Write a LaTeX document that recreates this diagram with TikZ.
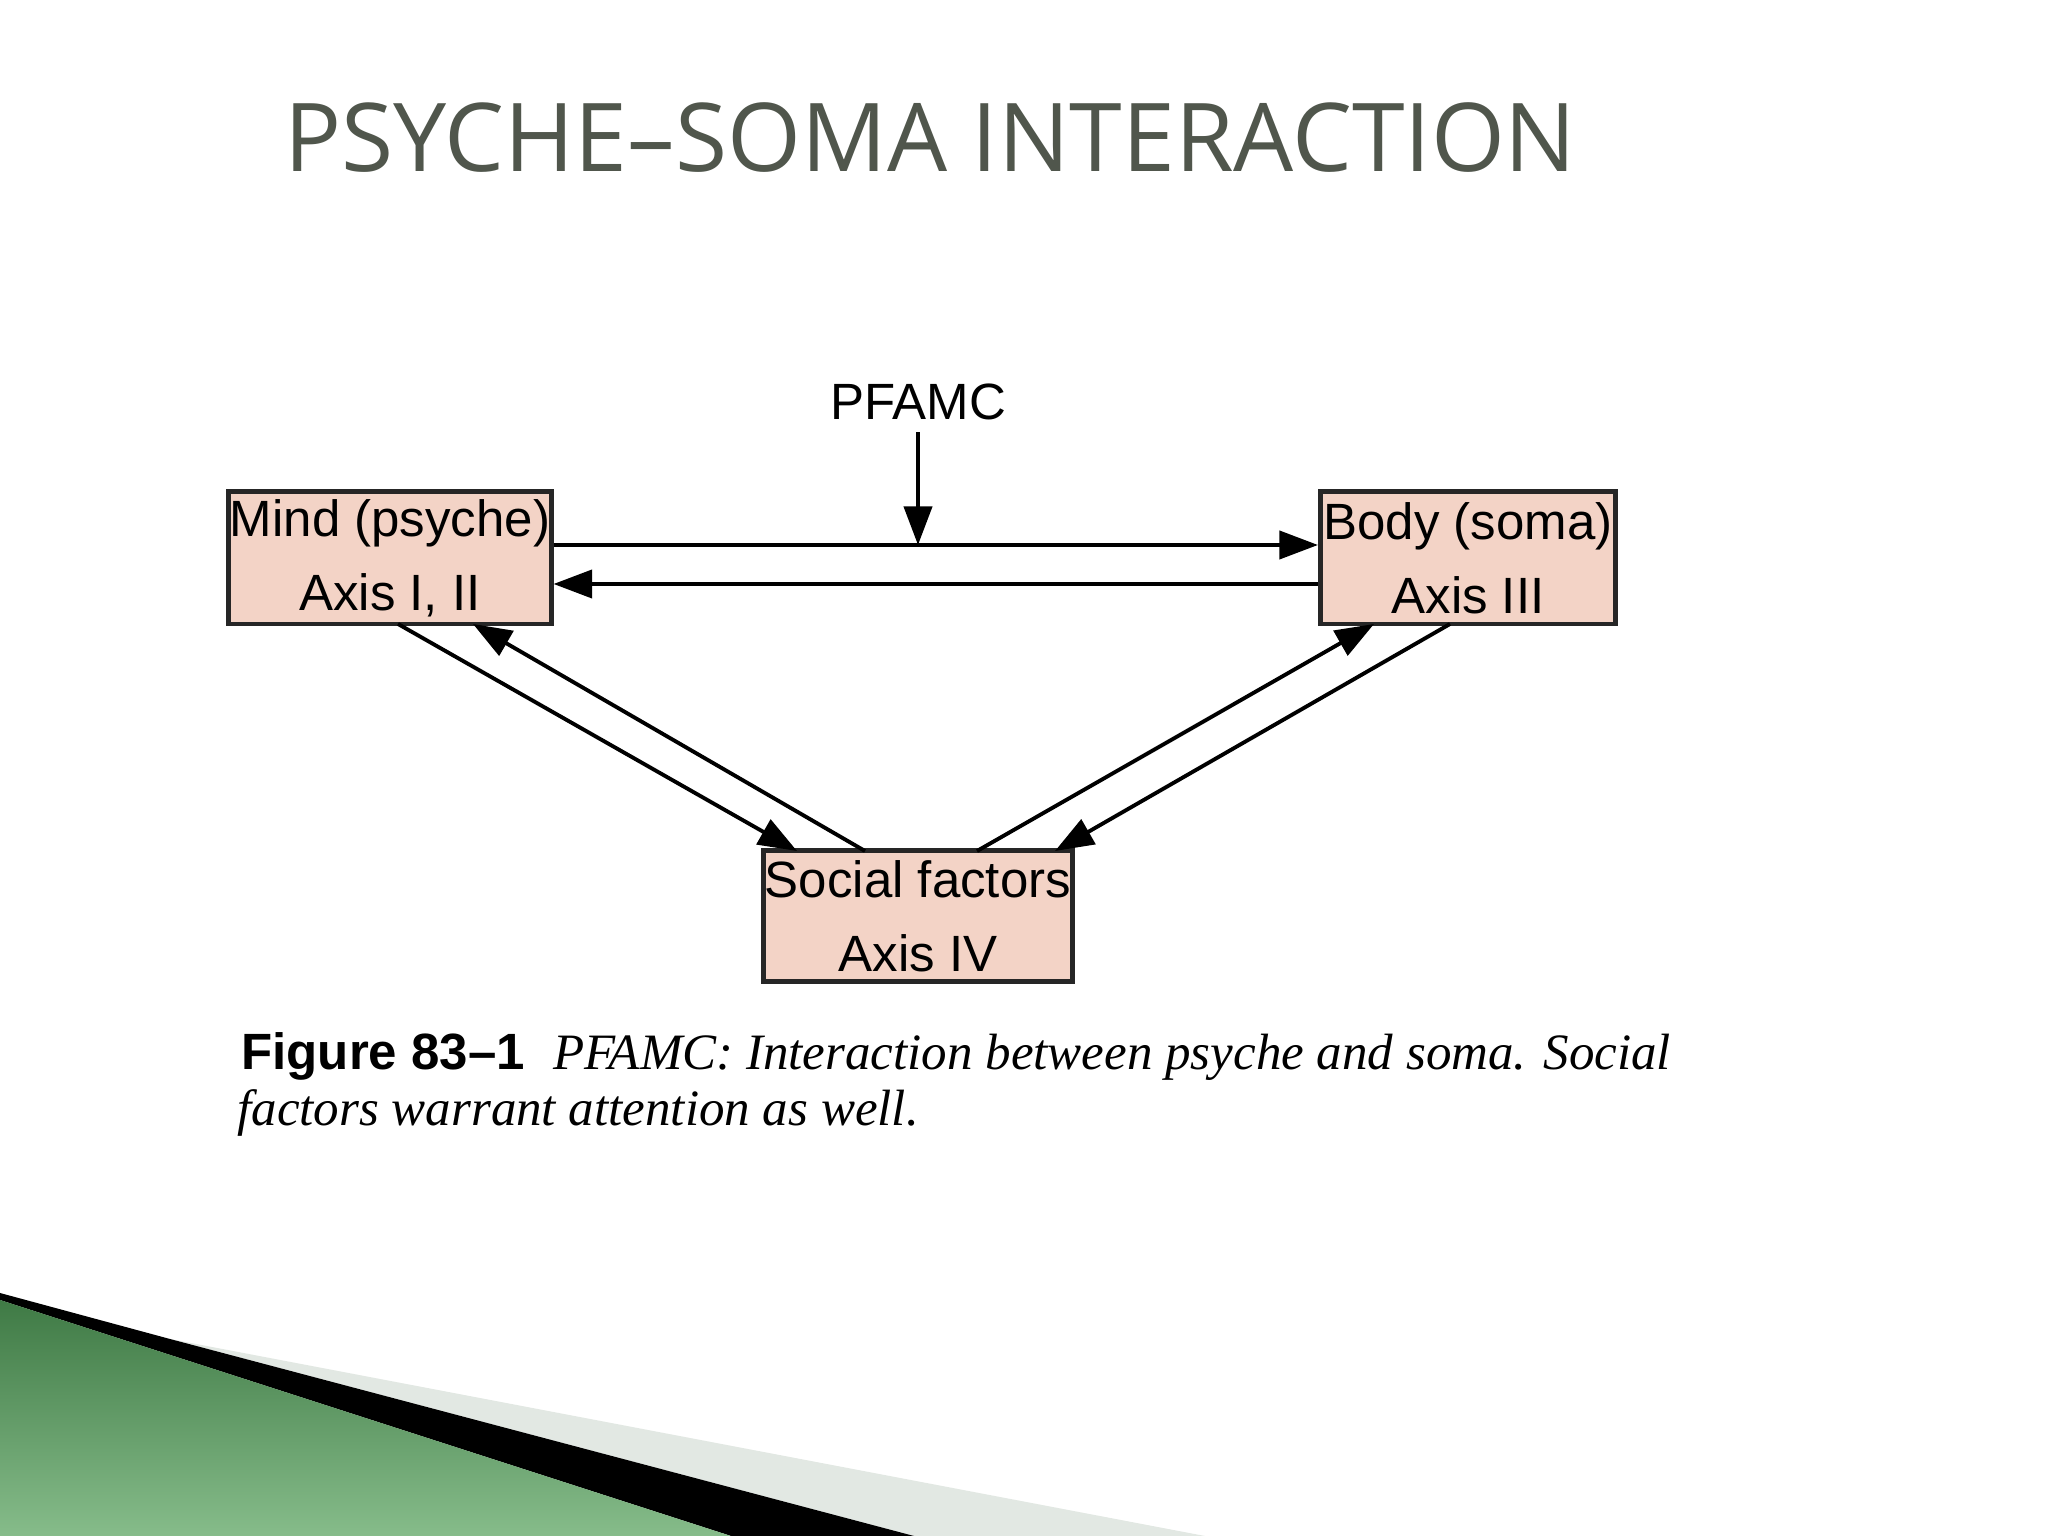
\documentclass[tikz,border=0pt]{standalone}
\usepackage{fontspec}
\setmainfont{Liberation Sans}
\newfontfamily\serifit{Liberation Serif}
\newfontfamily\titlefont{Open Sans}
\usetikzlibrary{arrows.meta}
\definecolor{boxfill}{HTML}{F3D3C6}
\definecolor{titlecol}{HTML}{50564C}
\definecolor{greenA}{HTML}{3F7A45}
\definecolor{greenB}{HTML}{86BC8A}
\definecolor{graylight}{HTML}{E2E8E3}
\begin{document}
\begin{tikzpicture}[x=0.01cm,y=0.01cm,
  box/.style={draw=black!85,line width=1.4pt,fill=boxfill,align=center,inner sep=0pt,font=\fontsize{14.5}{18}\selectfont},
  arr/.style={line width=1.1pt,-{Triangle[length=11pt,width=8pt]}}]
\useasboundingbox (0,0) rectangle (2048,1536);
% decoration
\fill[graylight] (170,197) -- (1205,0) -- (914,0) -- cycle;
\fill[black] (0,243) -- (170,197) -- (914,0) -- (731,0) -- (0,236) -- cycle;
\shade[left color=greenA,right color=greenB,shading angle=0] (0,236) -- (731,0) -- (0,0) -- cycle;
% title
\node[anchor=base west,text=titlecol,font=\titlefont\fontsize{27}{32}\selectfont] (title) at (272,1364) {PSYCHE–SOMA INTERACTION};
% boxes
\node[box,minimum width=3.22cm,minimum height=1.32cm] (mind) at (390,978) {Mind (psyche)\\[3pt]Axis I, II};
\node[box,minimum width=2.95cm,minimum height=1.32cm] (body) at (1468,978) {Body (soma)\\[3pt]Axis III};
\node[box,minimum width=3.08cm,minimum height=1.31cm] (social) at (918,620) {Social factors\\[3pt]Axis IV};
\node[font=\fontsize{14.5}{18}\selectfont] (pfamc) at (918,1134) {PFAMC};
\coordinate (pt) at (918,991);
\draw[arr] (pfamc.south) -- (pt);
\draw[arr] (mind.east |- pt) -- (body.west |- pt);
\draw[arr] (body.west |- 0,952) -- (mind.east |- 0,952);
\draw[arr] (398,912) -- (797,685);
\draw[arr] (865,685) -- (473,912);
\draw[arr] (977,685) -- (1374,912);
\draw[arr] (1450,912) -- (1055,685);
% caption
\node[anchor=base west,font=\fontsize{14.5}{18}\selectfont] (cap1) at (229,466) {\textbf{Figure 83–1}\ \ {\serifit\itshape PFAMC: Interaction between psyche and soma. Social}};
\node[anchor=base west,font=\serifit\itshape\fontsize{14.5}{18}\selectfont] (cap2) at (225,410) {factors warrant attention as well.};
\end{tikzpicture}
\end{document}
